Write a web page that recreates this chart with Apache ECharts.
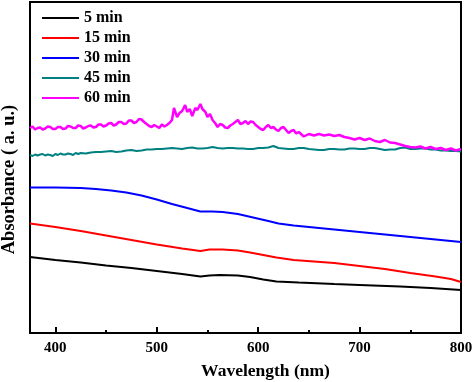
<!DOCTYPE html>
<html>
<head>
<meta charset="utf-8">
<script src="https://cdn.jsdelivr.net/npm/echarts@6/dist/echarts.min.js"></script>
<style>html,body{margin:0;padding:0;background:#fff}#c{width:474px;height:382px}</style>
</head>
<body>
<div id="c"></div>
<script>
// Series names
const seriesNames = ['5 min', '15 min', '30 min', '45 min', '60 min'];
const seriesColors = ['#000000', '#ff0000', '#0000ff', '#008080', '#ff00ff'];
const majorTicks = [400, 500, 600, 700, 800];
const minorTicks = [450, 550, 650, 750];

// 5 min
const wl5 = [375, 400, 425, 450, 475, 500, 525, 543, 552, 562, 580, 592, 605, 618, 640, 675, 700, 740, 770, 800];
const abs5 = [76, 73, 70.5, 67.5, 65, 62, 59, 56.5, 57.5, 58, 57.5, 56, 53.5, 51.5, 50.5, 49, 48, 46.5, 45, 43];

// 15 min
const wl15 = [375, 400, 425, 450, 475, 500, 525, 543, 552, 565, 580, 592, 605, 618, 635, 655, 675, 700, 725, 750, 775, 790, 800];
const abs15 = [109.5, 106, 102, 97.5, 93, 88.5, 84.5, 82, 83.5, 83.5, 82.5, 80.5, 78, 75.5, 73, 71.5, 70, 67, 64, 60, 56.5, 54, 51];

// 30 min
const wl30 = [375, 400, 425, 440, 455, 470, 485, 500, 515, 530, 543, 555, 565, 580, 595, 610, 620, 635, 655, 675, 700, 725, 750, 775, 800];
const abs30 = [145.5, 145.5, 145, 144, 142.5, 140.5, 137.5, 133.5, 129, 125, 121.5, 121.5, 121, 119, 115.5, 112, 109.5, 107.5, 105.5, 103.5, 101, 98.5, 96, 93.5, 91];

// 45 min
const wl45 = [375, 377.5, 380, 382.5, 385, 387.5, 390, 392.5, 395, 397.5, 400, 402.5, 405, 407.5, 410, 412.5, 415, 417.5, 420, 422.5, 425, 430, 435, 440, 445, 450, 455, 460, 465, 470, 475, 480, 485, 490, 495, 500, 505, 510, 515, 520, 525, 530, 535, 540, 545, 550, 555, 560, 565, 570, 575, 580, 585, 590, 595, 600, 605, 610, 615, 620, 625, 630, 635, 640, 645, 650, 655, 660, 665, 670, 675, 680, 685, 690, 695, 700, 705, 710, 715, 720, 725, 730, 735, 740, 745, 750, 755, 760, 765, 770, 775, 780, 785, 790, 795, 800];
const abs45 = [178, 177, 178.5, 177.5, 178.5, 179, 177.5, 178.5, 178, 177, 179, 178, 179.5, 178.5, 178.5, 179.5, 179, 178, 180, 179, 180, 179.5, 180.5, 181, 181, 181.5, 182, 181, 181.5, 182.5, 183, 182, 182.5, 183.5, 183.5, 184, 184, 184.5, 185, 184.5, 184, 185, 185.5, 184.5, 184.5, 185, 186, 185, 184.5, 185, 185, 184.5, 184.5, 184, 184, 185, 185, 185.5, 187, 185, 184.5, 184, 184, 185, 185, 184, 183.5, 183, 183, 184, 184, 183.5, 183.5, 184.5, 184.5, 184, 184, 185, 185, 184, 183, 183.5, 183.5, 185, 185.5, 184, 184, 184.5, 184.5, 183.5, 183.5, 182.5, 182.5, 182, 182, 181.5];

// 60 min
const wl60 = [375, 377.5, 380, 382.5, 385, 387.5, 390, 392.5, 395, 397.5, 400, 402.5, 405, 407.5, 410, 412.5, 415, 417.5, 420, 422.5, 425, 427.5, 430, 432.5, 435, 437.5, 440, 442.5, 445, 447.5, 450, 452.5, 455, 457.5, 460, 462.5, 465, 467.5, 470, 472.5, 475, 477.5, 480, 482.5, 485, 487.5, 490, 492.5, 495, 497.5, 500, 502.5, 505, 507.5, 510, 512.5, 515, 517, 520, 522.5, 525, 528, 530, 532.5, 535, 538, 540, 543, 545, 548, 550, 552.5, 555, 557.5, 560, 562.5, 565, 567.5, 570, 572.5, 575, 577.5, 580, 582.5, 585, 587.5, 590, 592.5, 595, 597.5, 600, 602.5, 605, 607.5, 610, 612.5, 615, 617.5, 620, 622.5, 625, 627.5, 630, 632.5, 635, 637.5, 640, 645, 650, 655, 660, 665, 670, 675, 680, 685, 690, 695, 700, 705, 710, 715, 720, 725, 730, 735, 740, 745, 750, 755, 760, 765, 770, 775, 780, 785, 790, 795, 800];
const abs60 = [205, 206.5, 203.5, 205, 205.5, 203.5, 204.5, 206.5, 206, 204, 204, 206, 206, 204, 204.5, 207, 206.5, 205, 205, 207.5, 207, 204.5, 205.5, 207, 207.5, 205.5, 206, 208.5, 208.5, 206.5, 207.5, 209.5, 210, 207.5, 208.5, 211, 211, 209, 209.5, 212.5, 212.5, 210, 211, 214, 213.5, 211, 209, 207, 206, 208, 206.5, 205, 208.5, 206.5, 208, 210, 213, 225, 216, 220, 222, 228, 221, 224, 217, 225, 223, 229, 224, 221, 216, 219, 213, 210, 206, 209, 208, 205.5, 205, 207.5, 209, 211, 213, 209, 210, 212, 209, 211.5, 211, 208, 206, 204, 203, 206, 208, 205, 206, 203.5, 202, 205, 206, 203, 200, 202, 203, 199.5, 201, 196.5, 199, 197.5, 199, 197.5, 198.5, 197, 198, 196, 195, 193.5, 195, 193, 194.5, 192, 191, 193, 190.5, 190, 188.5, 187, 186, 185.5, 186.5, 184.5, 186, 184, 185, 183, 184.5, 182.5, 184];

const wls = [wl5, wl15, wl30, wl45, wl60];
const abss = [abs5, abs15, abs30, abs45, abs60];
const widths = [2, 2, 2, 2, 2.5];

const font = '"Liberation Serif", "Times New Roman", serif';
const chart = echarts.init(document.getElementById('c'), null, {renderer: 'canvas'});
const series = seriesNames.map((n, i) => ({
  name: n,
  type: 'line',
  data: wls[i].map((x, j) => [x, abss[i][j]]),
  showSymbol: false,
  symbol: 'none',
  lineStyle: {color: seriesColors[i], width: widths[i]},
  itemStyle: {color: seriesColors[i]},
  z: 2 + i
}));

chart.setOption({
  animation: false,
  backgroundColor: '#fff',
  grid: {left: 30, right: 13, top: 2, bottom: 49, show: true, borderColor: '#000', borderWidth: 2, backgroundColor: 'transparent', outerBoundsMode: 'none', containLabel: false},
  legend: {
    orient: 'vertical', left: 42, top: 10, padding: 0, itemWidth: 37, itemHeight: 2, itemGap: 4,
    icon: 'rect',
    textStyle: {fontFamily: font, fontWeight: 'bold', fontSize: 16, color: '#000'},
    data: seriesNames
  },
  xAxis: [{
    type: 'value', min: 375, max: 800,
    name: 'Wavelength (nm)', nameLocation: 'middle', nameGap: 29,
    nameTextStyle: {fontFamily: font, fontWeight: 'bold', fontSize: 17.5, color: '#000', padding: [0, 0, 0, 40]},
    axisLine: {show: true, lineStyle: {color: '#000', width: 2}},
    axisTick: {show: true, inside: true, length: 6, lineStyle: {color: '#000', width: 2}, customValues: majorTicks},
    axisLabel: {fontFamily: font, fontWeight: 'bold', fontSize: 15, color: '#000', margin: 8, customValues: majorTicks},
    splitLine: {show: false}
  }, {
    type: 'value', min: 375, max: 800, position: 'bottom', offset: 0,
    axisLine: {show: false},
    axisTick: {show: true, inside: true, length: 3, lineStyle: {color: '#000', width: 2}, customValues: minorTicks},
    axisLabel: {show: false},
    splitLine: {show: false}
  }],
  yAxis: {
    type: 'value', min: 0, max: 331,
    name: 'Absorbance ( a. u.)', nameLocation: 'middle', nameGap: 11,
    nameTextStyle: {fontFamily: font, fontWeight: 'bold', fontSize: 18.5, color: '#000', padding: [0, 24, 0, 0]},
    axisLine: {show: true, lineStyle: {color: '#000', width: 2}},
    axisTick: {show: false},
    axisLabel: {show: false},
    splitLine: {show: false}
  },
  series: series
});
</script>
</body>
</html>
